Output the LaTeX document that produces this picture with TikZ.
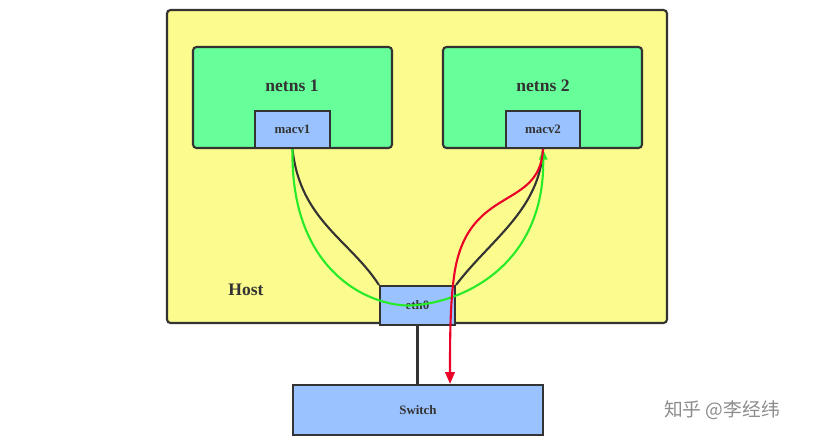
\documentclass[tikz,border=0pt]{standalone}
\usepackage{fontspec}
\setmainfont{Liberation Serif}
\newfontfamily\cjk{Noto Sans CJK SC}
\usetikzlibrary{arrows.meta}
\begin{document}
\begin{tikzpicture}[x=0.03cm,y=-0.03cm,
 box/.style={draw=black!80,line width=1.8pt,rounded corners=3pt},
 ifbox/.style={draw=black!80,line width=1.8pt,fill=ifc,inner sep=0,font=\bfseries\fontsize{11}{12}\selectfont,text=black!80},
 lbl/.style={font=\bfseries\fontsize{15}{16}\selectfont,text=black!80},
 wire/.style={line width=1.8pt}]
\definecolor{hostc}{HTML}{FBFB8E}
\definecolor{nsc}{HTML}{66FF99}
\definecolor{ifc}{HTML}{99C2FF}
\useasboundingbox (0,0) rectangle (819,447);
\draw[box,fill=hostc] (167,10) rectangle (667,323);
\node[lbl] (host) at (246,290) {Host};
\draw[box,fill=nsc] (193,47) rectangle (392,148);
\draw[box,fill=nsc] (443,47) rectangle (642,148);
\node[lbl] (n1) at (292,86) {netns 1};
\node[lbl] (n2) at (543,86) {netns 2};
\node[ifbox,minimum width=2.25cm,minimum height=1.11cm] (m1) at (292.5,129.5) {macv1};
\node[ifbox,minimum width=2.22cm,minimum height=1.11cm] (m2) at (543,129.5) {macv2};
\node[ifbox,minimum width=2.25cm,minimum height=1.17cm] (e) at (417.5,305.5) {eth0};
\node[ifbox,minimum width=7.5cm,minimum height=1.5cm] (sw) at (418,410) {Switch};
\draw[wire,black!80] (e.south) -- (e.south |- sw.north);
\draw[wire,black!80] (m1.south) .. controls (300,220) and (350,240) .. (e.north west);
\draw[wire,black!80] (e.north east) .. controls (490,240) and (540,210) .. (m2.south);
\draw[wire,color={rgb,255:red,40;green,235;blue,40},-{Triangle[length=9pt,width=7pt]}] (m1.south) .. controls (290,280) and (380,310) .. (417,305) .. controls (470,300) and (545,260) .. (m2.south);
\draw[wire,color={rgb,255:red,235;green,0;blue,40},-{Triangle[length=10pt,width=8pt]}] (m2.south) .. controls (540,210) and (470,185) .. (455,270) .. controls (450,300) and (450,340) .. (sw.north -| 450,0);
\node[text=black!45,font=\cjk\fontsize{16}{18}\selectfont] (wm) at (722,410) {知乎 @李经纬};
\end{tikzpicture}
\end{document}
